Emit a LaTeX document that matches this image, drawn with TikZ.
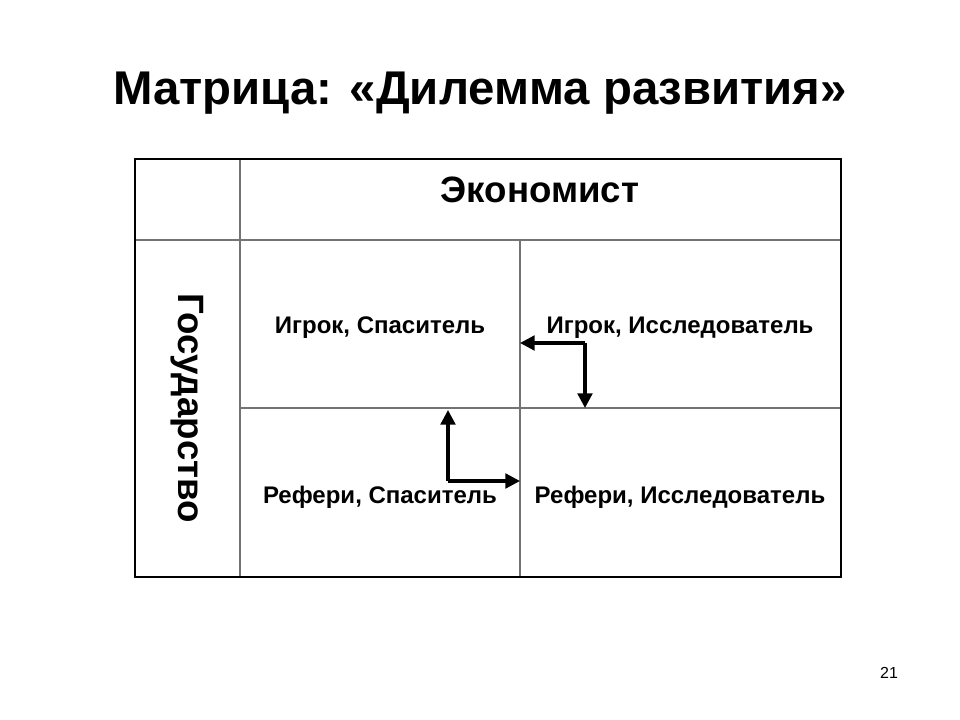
\documentclass[tikz,border=0pt]{standalone}
\usepackage{fontspec}
\setmainfont{Liberation Sans}
\usetikzlibrary{arrows.meta}
\begin{document}
\begin{tikzpicture}[x=0.75pt, y=-0.75pt,
			grid/.style={draw=black!55, line width=1.2pt},
			frame/.style={draw=black, line width=2.2pt},
			cell/.style={font=\bfseries\fontsize{18}{22}\selectfont},
			head/.style={font=\bfseries\fontsize{27.5}{32}\selectfont},
			move/.style={draw=black, line width=2.4pt, -{Triangle[length=11pt, width=11pt]}},
		]
		\useasboundingbox (0,0) rectangle (960,720);

		\node[font=\bfseries\fontsize{35.5}{42}\selectfont] (title) at (480,93) {Матрица: «Дилемма развития»};

		% table lines
		\draw[grid] (240,159) -- (240,577);
		\draw[grid] (135,240) -- (841,240);
		\draw[grid] (520,240) -- (520,577);
		\draw[grid] (240,408) -- (841,408);
		\draw[frame] (135,159) rectangle (841,577);

		\node[head] (econ) at (540,190) {Экономист};
		\node[head, rotate=-90] (state) at (187,408) {Государство};

		\node[cell] (ps) at (380,328) {Игрок, Спаситель};
		\node[cell] (pi) at (680,328) {Игрок, Исследователь};
		\node[cell] (rs) at (380,497) {Рефери, Спаситель};
		\node[cell] (ri) at (680,497) {Рефери, Исследователь};

		\coordinate (c1) at (585,343);
		\coordinate (c2) at (448,481);
		\draw[move] (c1) -- (520,343);
		\draw[move] (c1) -- (585,408);
		\draw[move] (c2) -- (448,410);
		\draw[move] (c2) -- (520,481);

		\node[font=\fontsize{12}{14}\selectfont] (page) at (889,673) {21};
\end{tikzpicture}
\end{document}
